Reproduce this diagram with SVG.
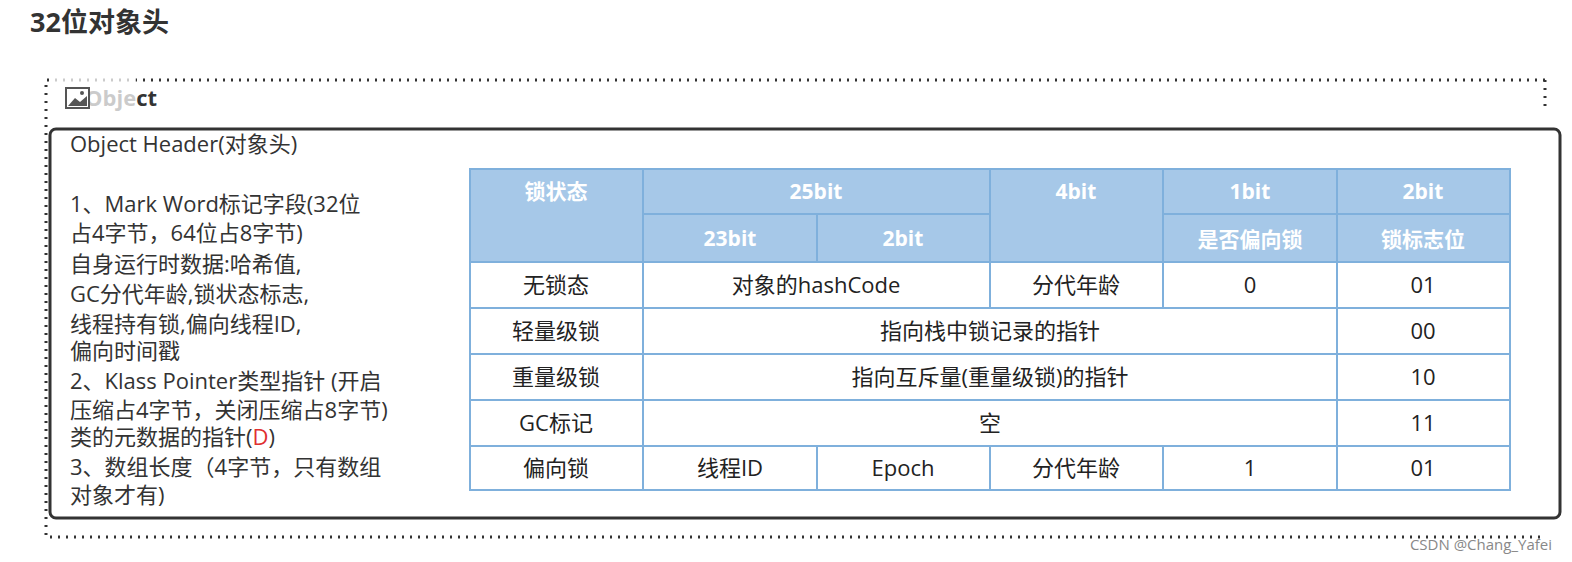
<svg xmlns="http://www.w3.org/2000/svg" width="1572" height="562" viewBox="0 0 1572 562">
<style>
text{font-family:"Open Sans","Noto Sans CJK SC",sans-serif}
.l{font-size:22px;fill:#333}
.h{font-size:21px;fill:#fff;font-weight:bold;text-anchor:middle}
.c{font-size:22px;fill:#222;text-anchor:middle}
.g{stroke:#7fb0dc;stroke-width:2;fill:none}
</style>
<rect width="1572" height="562" fill="#fff"/>
<text x="30" y="32" font-size="27" font-weight="bold" fill="#333">32位对象头</text>
<g id="outer">
<path d="M1545 80 H46 V537 H1545" fill="none" stroke="#333" stroke-width="3" stroke-dasharray="2 6"/>
<path d="M1545 80 V108" fill="none" stroke="#333" stroke-width="3" stroke-dasharray="2 6"/>
<text x="85" y="106" font-size="22" font-weight="bold" fill="#333">Object</text>
<rect x="50" y="72" width="86" height="48" fill="#fff" opacity="0.75"/>
<rect x="66" y="88" width="23" height="20" fill="#fff" stroke="#555" stroke-width="2"/>
<path d="M68 106 L75 98 L80 102 L87 96 V106 Z" fill="#555"/>
<circle cx="82" cy="93" r="2" fill="#555"/>
</g>
<g id="header-box">
<rect x="50" y="129" width="1510" height="389" rx="6" fill="none" stroke="#333" stroke-width="3"/>
<text class="l" x="70" y="152">Object Header(对象头)</text>
<text class="l" x="70" y="212">1、Mark Word标记字段(32位</text>
<text class="l" x="70" y="241"> 占4字节，64位占8字节)</text>
<text class="l" x="70" y="272">自身运行时数据:哈希值,</text>
<text class="l" x="70" y="302">GC分代年龄,锁状态标志,</text>
<text class="l" x="70" y="332">线程持有锁,偏向线程ID,</text>
<text class="l" x="70" y="359">偏向时间戳</text>
<text class="l" x="70" y="389">2、Klass Pointer类型指针 (开启</text>
<text class="l" x="70" y="418">压缩占4字节，关闭压缩占8字节)</text>
<text class="l" x="70" y="445">类的元数据的指针(<tspan fill="#e03030">D</tspan>)</text>
<text class="l" x="70" y="475">3、数组长度（4字节，只有数组</text>
<text class="l" x="70" y="503">对象才有)</text>
</g>
<g id="table">
<rect x="470" y="169" width="1040" height="93" fill="#a6c8e8"/>
<g class="g">
<rect x="470" y="169" width="1040" height="321"/>
<path d="M470 262 H1510 M470 308 H1510 M470 354 H1510 M470 400 H1510 M470 446 H1510"/>
<path d="M643 214 H990 M1163 214 H1510"/>
<path d="M643 169 V490 M990 169 V308 M1163 169 V308 M1337 169 V490 M817 214 V262 M990 446 V490 M1163 446 V490 M817 446 V490 M990 262 V308"/>
</g>
<text class="h" x="556" y="199">锁状态</text>
<text class="h" x="816" y="199">25bit</text>
<text class="h" x="1076" y="199">4bit</text>
<text class="h" x="1250" y="199">1bit</text>
<text class="h" x="1423" y="199">2bit</text>
<text class="h" x="730" y="246">23bit</text>
<text class="h" x="903" y="246">2bit</text>
<text class="h" x="1250" y="247" font-size="23">是否偏向锁</text>
<text class="h" x="1423" y="247" font-size="23">锁标志位</text>
<text class="c" x="556" y="293">无锁态</text>
<text class="c" x="816" y="293">对象的hashCode</text>
<text class="c" x="1076" y="293">分代年龄</text>
<text class="c" x="1250" y="293">0</text>
<text class="c" x="1423" y="293">01</text>
<text class="c" x="556" y="339">轻量级锁</text>
<text class="c" x="990" y="339">指向栈中锁记录的指针</text>
<text class="c" x="1423" y="339">00</text>
<text class="c" x="556" y="385">重量级锁</text>
<text class="c" x="990" y="385">指向互斥量(重量级锁)的指针</text>
<text class="c" x="1423" y="385">10</text>
<text class="c" x="556" y="431">GC标记</text>
<text class="c" x="990" y="431">空</text>
<text class="c" x="1423" y="431">11</text>
<text class="c" x="556" y="476">偏向锁</text>
<text class="c" x="730" y="476">线程ID</text>
<text class="c" x="903" y="476">Epoch</text>
<text class="c" x="1076" y="476">分代年龄</text>
<text class="c" x="1250" y="476">1</text>
<text class="c" x="1423" y="476">01</text>
</g>
<text x="1552" y="550" font-size="15" fill="#888" text-anchor="end" font-family="Liberation Sans,sans-serif">CSDN @Chang_Yafei</text>
</svg>
